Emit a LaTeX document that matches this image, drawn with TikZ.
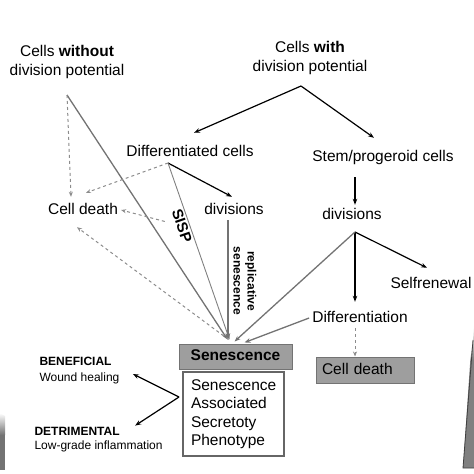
\documentclass[tikz,border=0pt]{standalone}
\usepackage{fontspec}
\setmainfont{Liberation Sans}
\usetikzlibrary{arrows.meta}

\begin{document}
\begin{tikzpicture}[x=1pt,y=-1pt,
   txt/.style={font=\fontsize{15.5}{19}\selectfont, align=center, inner sep=3pt, text height=11pt, text depth=3pt},
   small/.style={font=\fontsize{12}{16}\selectfont\bfseries, align=left, anchor=west},
   blk/.style={draw=black, line width=1.2pt, -{Stealth[length=6pt,width=4.5pt]}},
   gry/.style={draw=black!55, line width=1.3pt, -{Stealth[length=6pt,width=4.5pt]}},
   dsh/.style={draw=black!45, line width=1pt, dashed, -{Stealth[length=5pt,width=4pt]}},
   graybox/.style={draw=black!55, fill=black!38, line width=1pt}]
   \useasboundingbox (0,0) rectangle (474,474);

   \node[txt, text height=, text depth=] (without) at (67,62) {Cells \textbf{without}\\division potential};
   \node[txt, text height=, text depth=] (with) at (310,58) {Cells \textbf{with}\\division potential};
   \node[txt] (diff) at (190,152) {Differentiated cells};
   \node[txt] (stem) at (383,157) {Stem/progeroid cells};
   \node[txt] (celld) at (83,210) {Cell death};
   \node[txt] (divl) at (234,210) {divisions};
   \node[txt] (divr) at (352,215) {divisions};
   \node[txt] (self) at (431,284) {Selfrenewal};
   \node[txt] (differ) at (360,318) {Differentiation};
   \node[graybox, txt, font=\fontsize{15.5}{19}\selectfont\bfseries, minimum width=113pt, minimum height=25pt] (sen) at (235.5,356.5) {Senescence};
   \node[graybox, txt, align=left, text width=86pt, minimum width=98pt, minimum height=26pt] (cdr) at (365,370) {Cell death};
   \node[draw=black!60, line width=1.5pt, fill=white, font=\fontsize{15.5}{18.5}\selectfont, align=left, text width=85pt, minimum width=101pt, minimum height=84pt] (sasp) at (233.5,414) {Senescence\\Associated\\Secretoty\\Phenotype};
   \node[small] (benef) at (36,371) {BENEFICIAL\\\mdseries Wound healing};
   \node[small, font=\fontsize{12}{14}\selectfont\bfseries] (detr) at (31,440) {DETRIMENTAL\\\mdseries Low-grade inflammation};
   \node[font=\fontsize{15}{18}\selectfont\bfseries, rotate=-71, inner sep=1pt] (sisp) at (182,226) {SISP};
   \node[font=\fontsize{12}{14}\selectfont\bfseries, align=center, rotate=-90] (repl) at (245,281) {replicative\\senescence};

   \coordinate (wtop) at (301,86);
   \coordinate (wotop) at (67,95);
   \coordinate (dfork) at (168,163);
   \coordinate (rfork) at (355,232);
   \coordinate (sfork) at (179,397);

   \draw[blk] (wtop) -- ([xshift=4pt,yshift=9pt]diff.north);
   \draw[blk] (wtop) -- ([xshift=-9pt,yshift=9pt]stem.north);
   \draw[blk] (dfork) -- ([xshift=-2pt,yshift=3pt]divl.north);
   \draw[blk, shorten <=10pt] (stem.south -| rfork) -- (divr.north -| rfork);
   \draw[blk] (rfork) -- ([yshift=6pt]differ.north -| rfork);
   \draw[blk] (rfork) -- ([xshift=-4pt,yshift=6pt]self.north);
   \draw[dsh] (differ.south -| rfork) -- (cdr.north -| rfork);

   \draw[gry] (wotop) -- ([xshift=-8pt,yshift=4pt]sen.north);
   \draw[gry, line width=0.9pt, draw=black!50] (dfork) -- ([xshift=-6pt,yshift=4pt]sen.north);
   \draw[gry] ([xshift=-6pt]divl.south) -- ([xshift=-7.5pt,yshift=4pt]sen.north);
   \draw[gry] (rfork) -- ([xshift=-1pt,yshift=2pt]sen.north);
   \draw[gry] (differ.west) -- ([xshift=9pt,yshift=1pt]sen.north);

   \draw[dsh] (wotop) -- ([xshift=-12pt,yshift=3pt]celld.north);
   \draw[dsh] (dfork) -- ([xshift=3pt,yshift=7pt]celld.north);
   \draw[dsh, shorten <=10pt] (sisp) -- (celld.east);
   \draw[dsh] ([xshift=-7pt,yshift=4pt]sen.north) -- ([xshift=-6pt,yshift=-7pt]celld.south);

   \draw[blk] (sfork) -- ([xshift=10pt,yshift=-3pt]benef.east);
   \draw[blk] (sfork) -- ([xshift=-31pt,yshift=-1.5pt]detr.north east);

   % cut-off edges of the neighbouring panels
   \fill[black!50] (474,360) -- (474,468) -- (463,468) -- (470.3,360) -- cycle;
   \shade[top color=white, bottom color=black!50] (474,325) -- (474,360) -- (470.3,360) -- (473,340) -- cycle;
   \draw[black!75, line width=0.8pt] (473,340) -- (463,468) -- (474,468);
   \fill[black!55] (0,435) -- (5,435) -- (5,470) -- (0,470) -- cycle;
   \shade[top color=white, bottom color=black!55] (0,413) -- (5,416) -- (5,435) -- (0,435) -- cycle;
\end{tikzpicture}
\end{document}
